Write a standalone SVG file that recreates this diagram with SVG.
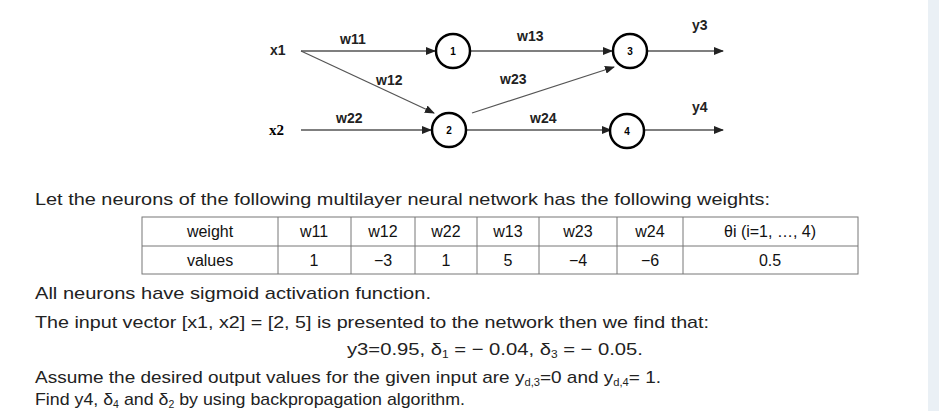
<svg xmlns="http://www.w3.org/2000/svg" width="939" height="411" viewBox="0 0 939 411">
<style>
.n{fill:#fff;stroke:#000;stroke-width:2.5}
.c{stroke:#555;stroke-width:1.3;fill:none}
.lb{font-family:"Liberation Sans",Arial,sans-serif;font-weight:bold;font-size:14px;fill:#222}
.nt{font-family:"Liberation Sans",Arial,sans-serif;font-weight:bold;font-size:10px;text-anchor:middle}
.t{font-family:"Liberation Sans",Arial,sans-serif;font-size:17px;fill:#222}
.tb{font-family:"Liberation Sans",Arial,sans-serif;font-size:16px;fill:#111;text-anchor:middle}
.g{stroke:#777;stroke-width:1}
.s{font-size:10px}
</style>
<defs><marker id="a" markerWidth="10" markerHeight="8" refX="9" refY="4" orient="auto" markerUnits="userSpaceOnUse"><path d="M0,0L10,4L0,8z" fill="#222"/></marker></defs>
<rect width="939" height="411" fill="#fff"/>
<rect x="928" y="0" width="11" height="411" fill="#eaf0f5"/>
<g id="connectors">
<line class="c" x1="301" y1="51" x2="435" y2="51" marker-end="url(#a)"/>
<line class="c" x1="301" y1="51" x2="434" y2="113" marker-end="url(#a)"/>
<line class="c" x1="301" y1="130" x2="431" y2="130" marker-end="url(#a)"/>
<line class="c" x1="471" y1="51" x2="612" y2="51" marker-end="url(#a)"/>
<line class="c" x1="472" y1="113" x2="614" y2="67" marker-end="url(#a)"/>
<line class="c" x1="467" y1="130" x2="611" y2="130" marker-end="url(#a)"/>
<line class="c" x1="648" y1="51" x2="723" y2="51" marker-end="url(#a)"/>
<line class="c" x1="645" y1="130" x2="723" y2="130" marker-end="url(#a)"/>
<text class="lb" x="340" y="44">w11</text>
<text class="lb" x="376" y="85">w12</text>
<text class="lb" x="336" y="123">w22</text>
<text class="lb" x="517" y="41">w13</text>
<text class="lb" x="500" y="84">w23</text>
<text class="lb" x="530" y="123">w24</text>
<text class="lb" x="692" y="30">y3</text>
<text class="lb" x="692" y="112">y4</text>
</g>
<g id="x1"><text class="lb" x="270" y="55">x1</text></g>
<g id="x2"><text x="269" y="135" style="font-family:'Liberation Serif',serif;font-weight:bold;font-size:15px">x2</text></g>
<g id="n1"><circle class="n" cx="453" cy="51" r="17"/><text class="nt" x="453" y="55">1</text></g>
<g id="n2"><circle class="n" cx="449" cy="130" r="17"/><text class="nt" x="449" y="134">2</text></g>
<g id="n3"><circle class="n" cx="630" cy="51" r="17"/><text class="nt" x="630" y="55">3</text></g>
<g id="n4"><circle class="n" cx="627" cy="131" r="17"/><text class="nt" x="627" y="135">4</text></g>
<text class="t" x="35" y="205" textLength="735" lengthAdjust="spacingAndGlyphs">Let the neurons of the following multilayer neural network has the following weights:</text>
<g id="table">
<rect x="142" y="217" width="716" height="57" fill="none" class="g"/>
<line class="g" x1="142" y1="246" x2="858" y2="246"/>
<line class="g" x1="278" y1="217" x2="278" y2="274"/>
<line class="g" x1="351" y1="217" x2="351" y2="274"/>
<line class="g" x1="415" y1="217" x2="415" y2="274"/>
<line class="g" x1="477" y1="217" x2="477" y2="274"/>
<line class="g" x1="539" y1="217" x2="539" y2="274"/>
<line class="g" x1="617" y1="217" x2="617" y2="274"/>
<line class="g" x1="683" y1="217" x2="683" y2="274"/>
<text class="tb" x="210" y="237">weight</text><text class="tb" x="314" y="237">w11</text><text class="tb" x="383" y="237">w12</text><text class="tb" x="446" y="237">w22</text><text class="tb" x="508" y="237">w13</text><text class="tb" x="578" y="237">w23</text><text class="tb" x="650" y="237">w24</text><text class="tb" x="770" y="237">θi  (i=1, …, 4)</text>
<text class="tb" x="210" y="266">values</text><text class="tb" x="314" y="266">1</text><text class="tb" x="383" y="266">−3</text><text class="tb" x="446" y="266">1</text><text class="tb" x="508" y="266">5</text><text class="tb" x="578" y="266">−4</text><text class="tb" x="650" y="266">−6</text><text class="tb" x="770" y="266">0.5</text>
</g>
<text class="t" x="35" y="299" textLength="396" lengthAdjust="spacingAndGlyphs">All neurons have sigmoid activation function.</text>
<text class="t" x="35" y="328" textLength="674" lengthAdjust="spacingAndGlyphs">The input vector [x1, x2] = [2, 5] is presented to the network then we find that:</text>
<text class="t" x="347" y="355" textLength="296" lengthAdjust="spacingAndGlyphs">y3=0.95, δ<tspan class="s" dy="3">1</tspan><tspan dy="-3"> = − 0.04, δ</tspan><tspan class="s" dy="3">3</tspan><tspan dy="-3"> = − 0.05.</tspan></text>
<text class="t" x="35" y="383" textLength="626" lengthAdjust="spacingAndGlyphs">Assume the desired output values for the given input are y<tspan class="s" dy="3">d,3</tspan><tspan dy="-3">=0 and y</tspan><tspan class="s" dy="3">d,4</tspan><tspan dy="-3">= 1.</tspan></text>
<text class="t" x="35" y="405" textLength="430" lengthAdjust="spacingAndGlyphs">Find y4, δ<tspan class="s" dy="3">4</tspan><tspan dy="-3"> and δ</tspan><tspan class="s" dy="3">2</tspan><tspan dy="-3"> by using backpropagation algorithm.</tspan></text>
</svg>
